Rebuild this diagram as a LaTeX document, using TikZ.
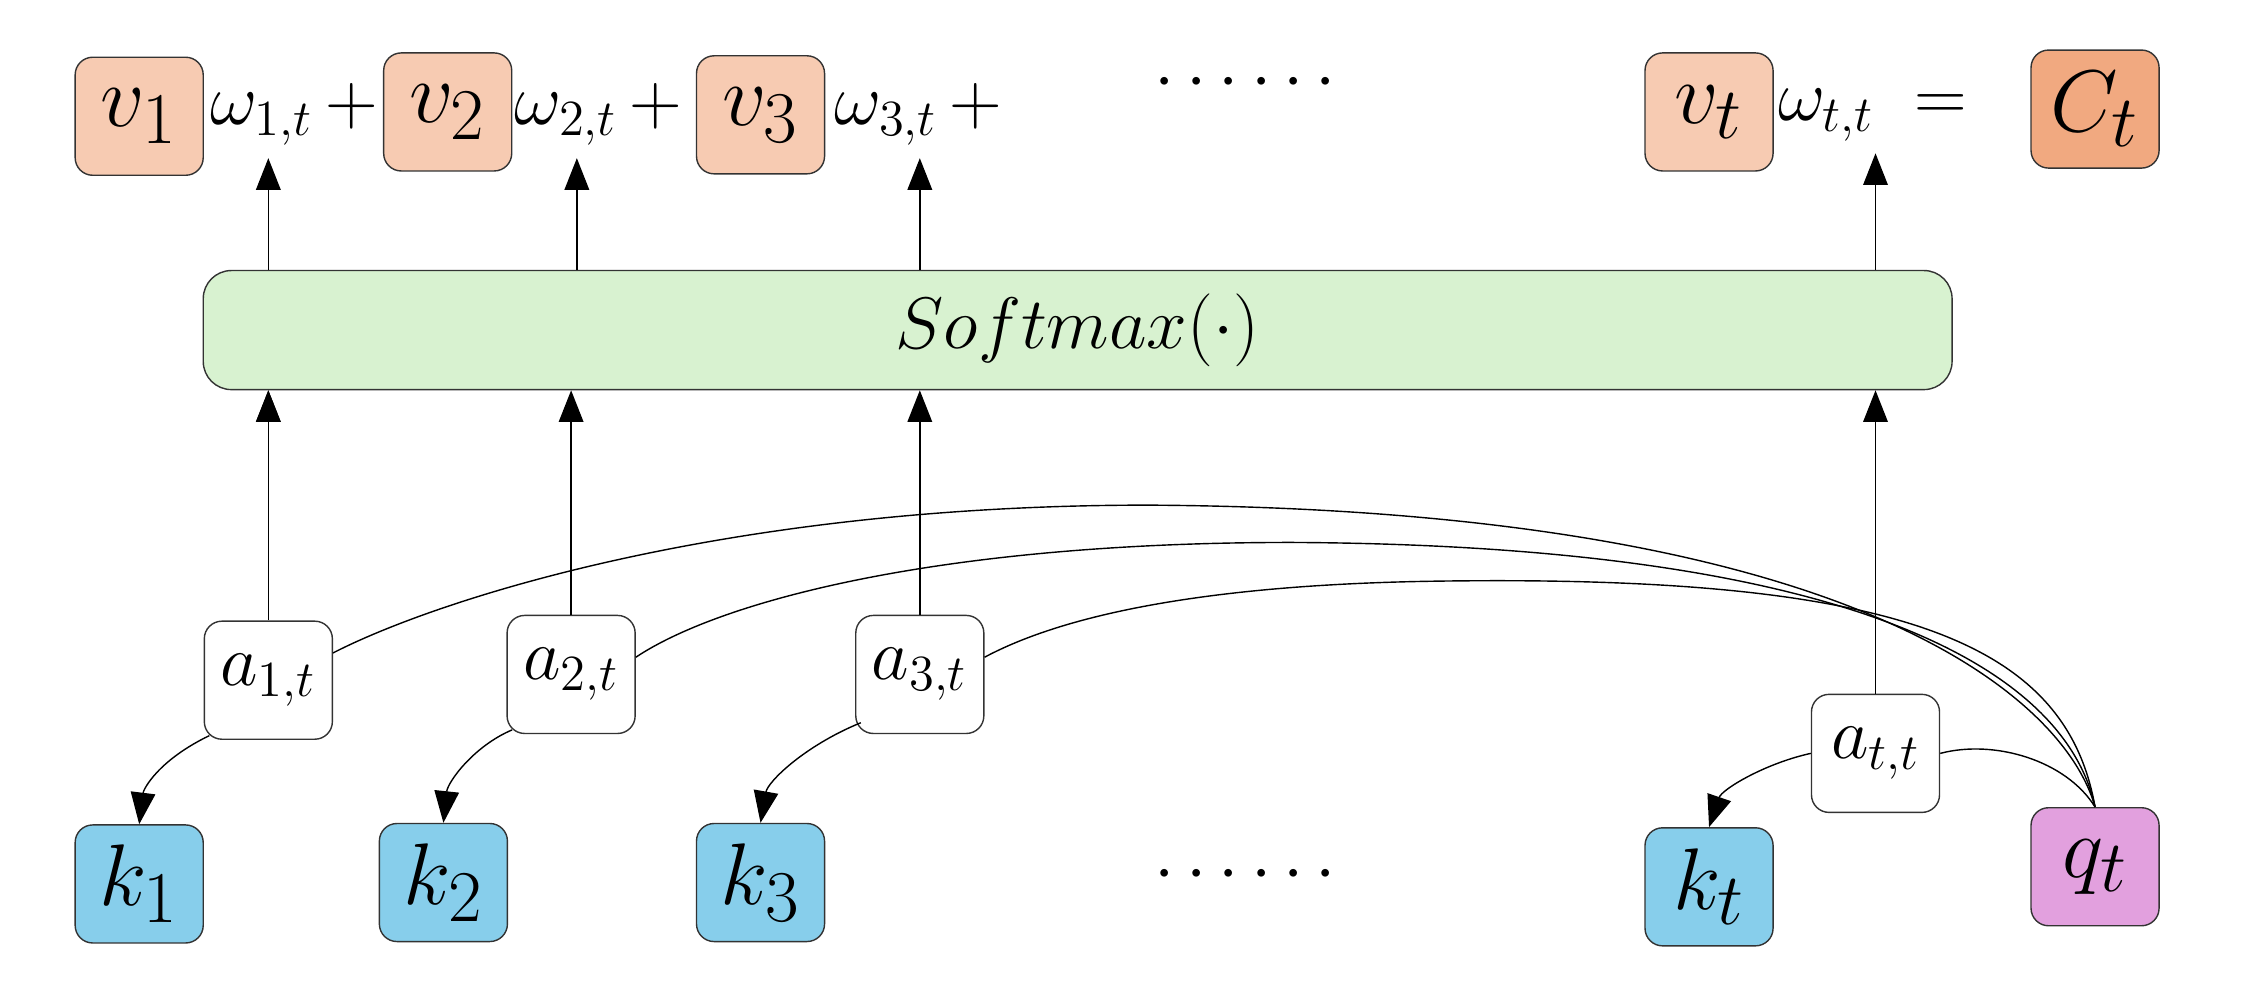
\documentclass[tikz,border=0pt]{standalone}
\usepackage{amsmath}
\usetikzlibrary{positioning,arrows.meta}
\definecolor{valorange}{RGB}{247,203,178}
\definecolor{ctxorange}{RGB}{241,169,128}
\definecolor{keyblue}{RGB}{135,206,235}
\definecolor{qpink}{RGB}{226,160,222}
\definecolor{softgreen}{RGB}{216,242,208}
\begin{document}
\begin{tikzpicture}[
    x=0.01435cm, y=-0.01435cm,
    box/.style={rectangle, draw=black!80, rounded corners=5pt,
                minimum width=1.28cm, minimum height=1.18cm, inner sep=0pt,
                font=\fontsize{28}{30}\selectfont},
    val/.style={box, fill=valorange},
    key/.style={box, fill=keyblue},
    score/.style={box, fill=white, font=\fontsize{21}{24}\selectfont},
    lbl/.style={font=\fontsize{20}{24}\selectfont},
    arrow/.style={-{Triangle[length=9pt,width=7pt]}, thin},
    link/.style={thin}
]
\useasboundingbox (0,0) rectangle (1568,684);

% top row
\node[val] (v1) at (97,81) {$v_1$};
\node[val] (v2) at (312,78) {$v_2$};
\node[val] (v3) at (530,80) {$v_3$};
\node[val] (vt) at (1191,78) {$v_t$};
\node[box, fill=ctxorange] (ct) at (1460,76) {$C_t$};
\node[lbl] (w1) at (205,80) {$\omega_{1,t}\,+$};
\node[lbl] (w2) at (417,80) {$\omega_{2,t}\,+$};
\node[lbl] (w3) at (640,80) {$\omega_{3,t}\,+$};
\node[lbl] (wt) at (1305,80) {$\omega_{t,t}\;=$};
\node[lbl] (dtop) at (872,58) {$\cdots\cdots$};

% softmax
\node[rectangle, draw=black!80, fill=softgreen, rounded corners=8pt,
      minimum width=17.48cm, minimum height=1.19cm,
      font=\fontsize{22}{26}\selectfont] (soft) at (751,230) {$Softmax(\cdot)$};

% scores
\node[score] (a1) at (187,474) {$a_{1,t}$};
\node[score] (a2) at (398,470) {$a_{2,t}$};
\node[score] (a3) at (641,470) {$a_{3,t}$};
\node[score] (at) at (1307,525) {$a_{t,t}$};

% bottom row
\node[key] (k1) at (97,616) {$k_1$};
\node[key] (k2) at (309,615) {$k_2$};
\node[key] (k3) at (530,615) {$k_3$};
\node[key] (kt) at (1191,618) {$k_t$};
\node[box, fill=qpink] (qt) at (1460,604) {$q_t$};
\node[lbl] (dbot) at (872,610) {$\cdots\cdots$};

% softmax outputs
\draw[arrow] (soft.south -| a1) -- (soft.south -| a1) ++(0,-0.01) coordinate (tmp);
\draw[arrow] (a1.north) -- (a1.north |- soft.south);
\draw[arrow] (a2.north) -- (a2.north |- soft.south);
\draw[arrow] (a3.north) -- (a3.north |- soft.south);
\draw[arrow] (at.north) -- (at.north |- soft.south);
\draw[arrow] (soft.north -| a1) -- (a1 |- w1.south);
\draw[arrow] (soft.north -| w2.center) ++(-15,0) coordinate (s2) -- (s2 |- w2.south);
\draw[arrow] (soft.north -| a3) -- (a3 |- w3.south);
\draw[arrow] (soft.north -| at) -- (at |- wt.south);

% query to scores
\draw[link] (qt.north) .. controls (1440,490) and (1300,355) .. (800,352)
            .. controls (500,352) and (300,420) .. (a1.east |- 0,455);
\draw[link] (qt.north) .. controls (1440,470) and (1300,380) .. (900,378)
            .. controls (650,378) and (500,420) .. (a2.east |- 0,458);
\draw[link] (qt.north) .. controls (1440,450) and (1330,400) .. (1000,405)
            .. controls (800,408) and (720,440) .. (a3.east |- 0,458);
\draw[link] (qt.north) .. controls (1440,530) and (1390,515) .. (at.east);

% scores to keys
\draw[arrow] (a1.south west) ++(4,-3) .. controls (110,530) and (100,550) .. (k1.north);
\draw[arrow] (a2.south west) ++(4,-3) .. controls (330,520) and (312,545) .. (k2.north);
\draw[arrow] (a3.south west) ++(4,-8) .. controls (560,520) and (535,545) .. (k3.north);
\draw[arrow] (at.west) .. controls (1230,532) and (1200,550) .. (kt.north);
\end{tikzpicture}
\end{document}
